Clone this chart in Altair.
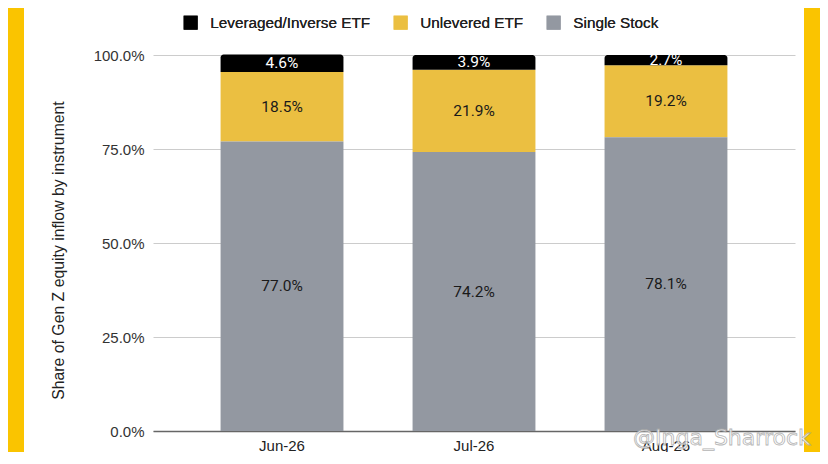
import altair as alt
import pandas as pd

months = ["Jun-26", "Jul-26", "Aug-26"]
instruments = ["Leveraged/Inverse ETF", "Unlevered ETF", "Single Stock"]
leveraged = [4.6, 3.9, 2.7]
unlevered = [18.5, 21.9, 19.2]
single = [77.0, 74.2, 78.1]
colors = ["#000000", "#EBBF41", "#9398A1"]
label_colors = ["#FFFFFF", "#1A1A1A", "#1A1A1A"]
stack_order = {"Single Stock": 0, "Unlevered ETF": 1, "Leveraged/Inverse ETF": 2}

rows = []
for i, m in enumerate(months):
    for name, vals in zip(instruments, [leveraged, unlevered, single]):
        rows.append({"month": m, "instrument": name, "value": vals[i] / 100.0,
                     "label": f"{vals[i]:.1f}%", "order": stack_order[name]})
df = pd.DataFrame(rows)

W, H = 642, 376
PL, PT = 145, 47
TOTW, TOTH = 812, 444

base = alt.Chart(df).transform_stack(
    stack="value", groupby=["month"], as_=["y0", "y1"],
    sort=[alt.SortField("order", order="ascending")]
).transform_calculate(mid="(datum.y0 + datum.y1) / 2")

xenc = alt.X("month:N", sort=months, title=None,
             scale=alt.Scale(paddingInner=0.36, paddingOuter=0.352),
             axis=alt.Axis(labelAngle=0, labelFontSize=15, labelColor="#222222",
                           labelFont="Liberation Sans",
                           labelPadding=7, ticks=False, domainColor="#666666",
                           domainWidth=1.5, grid=False))
yenc = alt.Y("y0:Q", title="Share of Gen Z equity inflow by instrument",
             scale=alt.Scale(domain=[0, 1]),
             axis=alt.Axis(values=[0, 0.25, 0.5, 0.75, 1.0], format=".1%",
                           labelFontSize=15, labelColor="#333333",
                           labelFont="Liberation Sans", labelPadding=9,
                           ticks=False, domain=False, gridColor="#CCCCCC",
                           titleFontSize=15.8, titleFont="Liberation Sans",
                           titleFontWeight="normal", titleColor="#222222",
                           titlePadding=27, titleY=195))
color = alt.Color("instrument:N", scale=alt.Scale(domain=instruments, range=colors),
                  legend=alt.Legend(title=None, orient="none", direction="horizontal",
                                    legendX=30, legendY=-40, symbolType="square",
                                    symbolSize=196, symbolStrokeWidth=0,
                                    labelFontSize=15.3, labelFont="Liberation Sans",
                                    labelColor="#222222", labelOffset=12,
                                    labelLimit=400,
                                    columnPadding=22, symbolOpacity=1))

bars_main = base.transform_filter("datum.order < 2").mark_bar().encode(
    x=xenc, y=yenc, y2="y1:Q", color=color)
bars_top = base.transform_filter("datum.order == 2").mark_bar(
    cornerRadiusTopLeft=3, cornerRadiusTopRight=3).encode(
    x=xenc, y=yenc, y2="y1:Q", color=color)

labels = base.mark_text(fontSize=15.5, font="Roboto", baseline="middle").encode(
    x=alt.X("month:N", sort=months),
    y=alt.Y("mid:Q"),
    text="label:N",
    color=alt.Color("instrument:N", scale=alt.Scale(domain=instruments, range=label_colors),
                    legend=None),
)

strip_df = pd.DataFrame({"s": [0]})
left_strip = alt.Chart(strip_df).mark_rect(color="#FAC400").encode(
    x=alt.value(-PL), x2=alt.value(-PL + 16), y=alt.value(-PT), y2=alt.value(TOTH - PT))
right_strip = alt.Chart(strip_df).mark_rect(color="#FAC400").encode(
    x=alt.value(651), x2=alt.value(TOTW - PL), y=alt.value(-PT), y2=alt.value(TOTH - PT))

wm = alt.Chart(pd.DataFrame({"t": ["@Inga_Sharrock"]})).mark_text(
    fontSize=22, font="DejaVu Sans", fill="#FFFFFF", stroke="#A8A8A8",
    strokeWidth=0.8, align="left", baseline="middle", opacity=0.85).encode(
    x=alt.value(480), y=alt.value(383), text="t:N")

chart = alt.layer(left_strip, right_strip, bars_main, bars_top, labels, wm).resolve_scale(
    color="independent"
).properties(
    width=W, height=H,
    autosize=alt.AutoSizeParams(type="none"),
    padding={"left": PL, "top": PT, "right": TOTW - PL - W, "bottom": TOTH - PT - H},
    background="#FFFFFF",
).configure_view(stroke=None)

chart.save("out.html", embed_options={"renderer": "svg", "actions": False})
